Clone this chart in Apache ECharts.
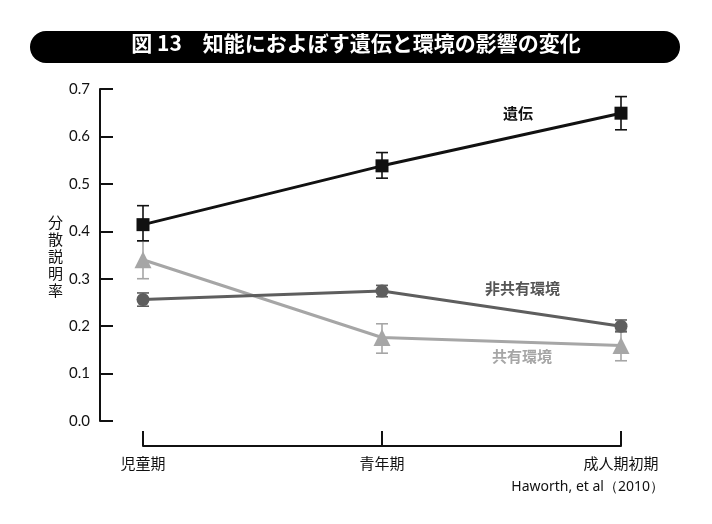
<!DOCTYPE html>
<html>
<head>
<meta charset="utf-8">
<script src="https://cdn.jsdelivr.net/npm/echarts@6/dist/echarts.min.js"></script>
<style>
html,body{margin:0;padding:0;background:#fff;}
#main{width:712px;height:524px;}
</style>
</head>
<body>
<div id="main"></div>
<script>
// データ
var stages = ['児童期', '青年期', '成人期初期'];
var geneVal = [0.414, 0.538, 0.649];
var geneLow = [0.380, 0.512, 0.614];
var geneHigh = [0.454, 0.566, 0.684];
var nonsharedVal = [0.256, 0.274, 0.200];
var nonsharedLow = [0.242, 0.262, 0.188];
var nonsharedHigh = [0.270, 0.286, 0.213];
var sharedVal = [0.340, 0.176, 0.159];
var sharedLow = [0.300, 0.143, 0.127];
var sharedHigh = [0.379, 0.205, 0.191];
var yTicks = [0, 0.1, 0.2, 0.3, 0.4, 0.5, 0.6, 0.7];

var jp = '"Noto Sans CJK JP", "Noto Sans", sans-serif';

// 誤差棒データ
function errData(low, high){
    var arr = [];
    for (var i = 0; i < low.length; i++) {
        arr.push([i, low[i], high[i]]);
    }
    return arr;
}
function errSeries(low, high, color){
    return {
        type: 'custom',
        silent: true,
        data: errData(low, high),
        renderItem: function(params, api){
            var lo = api.coord([api.value(0), api.value(1)]);
            var hi = api.coord([api.value(0), api.value(2)]);
            var w = 6;
            var st = {stroke: color, lineWidth: 1.6};
            return {
                type: 'group',
                children: [
                    {type: 'line', shape: {x1: lo[0], y1: lo[1], x2: hi[0], y2: hi[1]}, style: st},
                    {type: 'line', shape: {x1: lo[0]-w, y1: lo[1], x2: lo[0]+w, y2: lo[1]}, style: st},
                    {type: 'line', shape: {x1: hi[0]-w, y1: hi[1], x2: hi[0]+w, y2: hi[1]}, style: st}
                ]
            };
        }
    };
}
function lineSeries(name, data, color, symbol, size){
    return {
        name: name,
        type: 'line',
        data: data,
        symbol: symbol,
        symbolSize: size,
        lineStyle: {color: color, width: 3},
        itemStyle: {color: color, borderWidth: 0},
        z: 3
    };
}

var myChart = echarts.init(document.getElementById('main'));
var option = {
    backgroundColor: '#fff',
    animation: false,
    grid: {left: 143, right: 91, top: 89, bottom: 103},
    xAxis: {
        type: 'category',
        data: stages,
        boundaryGap: false,
        offset: 25,
        axisLine: {onZero: false, lineStyle: {color: '#111', width: 2}},
        axisTick: {inside: true, length: 15, lineStyle: {color: '#111', width: 2}},
        axisLabel: {color: '#111', fontSize: 15, fontFamily: jp, margin: 10}
    },
    yAxis: {
        type: 'value',
        min: 0,
        max: 0.7,
        interval: 0.1,
        offset: 43,
        splitLine: {show: false},
        axisLine: {show: true, lineStyle: {color: '#111', width: 2}},
        axisTick: {show: true, inside: true, length: 13, lineStyle: {color: '#111', width: 2}},
        axisLabel: {
            color: '#111', fontSize: 15, fontFamily: 'Lato, "Noto Sans", sans-serif', margin: 10,
            formatter: function(v){ return yTicks.indexOf(Math.round(v*10)/10) >= 0 ? v.toFixed(1) : ''; }
        }
    },
    series: [
        errSeries(sharedLow, sharedHigh, '#a6a6a6'),
        lineSeries('共有環境', sharedVal, '#a6a6a6', 'triangle', 17),
        errSeries(nonsharedLow, nonsharedHigh, '#5e5e5e'),
        lineSeries('非共有環境', nonsharedVal, '#5e5e5e', 'circle', 13),
        errSeries(geneLow, geneHigh, '#111'),
        lineSeries('遺伝', geneVal, '#111', 'rect', 13)
    ],
    graphic: [
        {type: 'rect', left: 30, top: 31, shape: {width: 650, height: 32, r: 16}, style: {fill: '#000'}},
        {type: 'text', left: 'center', top: 33, style: {text: '図 13　知能におよぼす遺伝と環境の影響の変化', fill: '#fff', fontSize: 21, fontWeight: 'bold', fontFamily: jp}},
        {type: 'text', left: 48, top: 214, style: {text: '分\n散\n説\n明\n率', fill: '#111', fontSize: 15, lineHeight: 17, fontFamily: jp}},
        {type: 'text', left: 503, top: 106, style: {text: '遺伝', fill: '#111', fontSize: 15, fontWeight: 'bold', fontFamily: jp}},
        {type: 'text', left: 485, top: 281, style: {text: '非共有環境', fill: '#555', fontSize: 15, fontWeight: 'bold', fontFamily: jp}},
        {type: 'text', left: 492, top: 349, style: {text: '共有環境', fill: '#a6a6a6', fontSize: 15, fontWeight: 'bold', fontFamily: jp}},
        {type: 'text', right: 48, top: 480, style: {text: 'Haworth, et al（2010）', fill: '#111', fontSize: 14, fontFamily: '"Noto Sans", sans-serif'}}
    ]
};
myChart.setOption(option);
</script>
</body>
</html>
